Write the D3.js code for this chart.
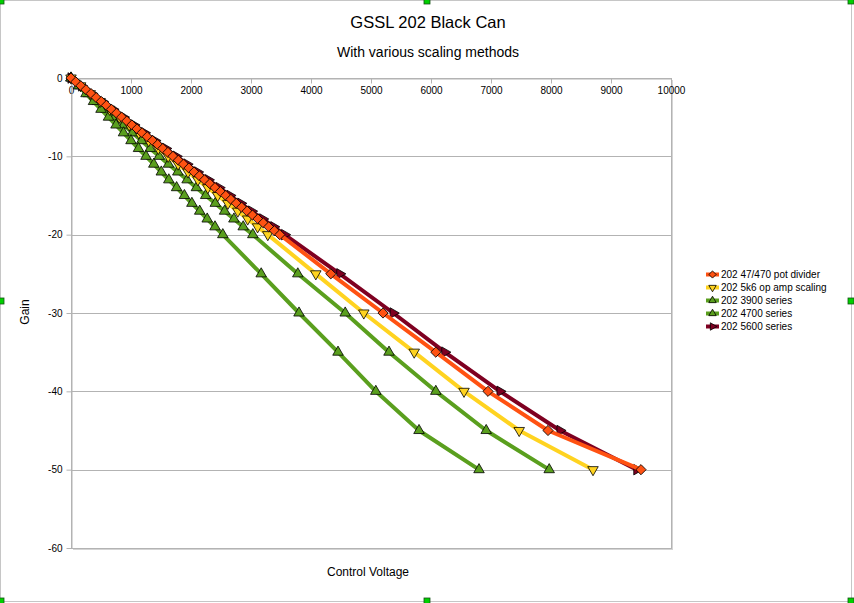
<!DOCTYPE html>
<html>
<head>
<meta charset="utf-8">
<script src="https://cdn.jsdelivr.net/npm/d3@7"></script>
<style>
	body { margin: 0; background: #fff; }
	svg { display: block; font-family: "Liberation Sans", Arial, sans-serif; }
</style>
</head>
<body>
<div id="chart"></div>
<script>
// gain steps (dB): the pot divider run was measured in half dB steps down to -20
var gainFine = [0,-0.5,-1,-1.5,-2,-2.5,-3,-3.5,-4,-4.5,-5,-5.5,-6,-6.5,-7,-7.5,-8,-8.5,-9,-9.5,
	-10,-10.5,-11,-11.5,-12,-12.5,-13,-13.5,-14,-14.5,-15,-15.5,-16,-16.5,-17,-17.5,-18,-18.5,-19,-19.5,
	-20,-25,-30,-35,-40,-45,-50];
var gainCoarse = [0,-1,-2,-3,-4,-5,-6,-7,-8,-9,-10,-11,-12,-13,-14,-15,-16,-17,-18,-19,-20,
	-25,-30,-35,-40,-45,-50];

// control voltage (mV) read for each gain step
var potDivider = [0,80,165,250,335,420,505,590,675,760,845,930,1015,1100,1185,1270,1360,1445,1530,1615,
	1700,1790,1875,1965,2050,2140,2225,2315,2400,2490,2580,2665,2755,2845,2935,3025,3115,3205,3295,3390,
	3480,4330,5200,6080,6950,7950,9500];
var opAmp5k6 = [0,160,320,485,645,805,970,1130,1295,1455,1620,1785,1950,2115,2280,2445,2615,2780,2945,3110,
	3280,4080,4880,5720,6550,7470,8700];
var series3900 = [0,125,250,375,500,625,750,875,1000,1125,1250,1380,1505,1630,1760,1890,2015,2145,2270,2400,
	2530,3170,3800,4450,5080,5800,6800];
var series4700 = [0,145,290,440,585,730,880,1025,1175,1320,1470,1625,1780,1935,2090,2245,2405,2560,2715,2870,
	3030,3780,4570,5300,6080,6920,7970];
var series5600 = [0,175,350,525,700,875,1050,1225,1400,1580,1755,1935,2110,2290,2470,2650,2830,3010,3195,3380,
	3560,4480,5370,6230,7150,8150,9430];

var seriesNames = ["202 47/470 pot divider", "202 5k6 op amp scaling", "202 3900 series", "202 4700 series", "202 5600 series"];
var xTicks = [0,1000,2000,3000,4000,5000,6000,7000,8000,9000,10000];
var yTicks = [0,-10,-20,-30,-40,-50,-60];

var colors = ["#ff5212", "#ffd320", "#5a9f1e", "#5a9f1e", "#7e0021"];
var markers = [
	{type: d3.symbolSquare, size: 52, rotate: 45},
	{type: d3.symbolTriangle, size: 48, rotate: 180},
	{type: d3.symbolTriangle, size: 48, rotate: 0},
	{type: d3.symbolTriangle, size: 48, rotate: 0},
	{type: d3.symbolTriangle, size: 48, rotate: 90}
];

var series = [
	{name: seriesNames[0], gains: gainFine, volts: potDivider},
	{name: seriesNames[1], gains: gainCoarse, volts: opAmp5k6},
	{name: seriesNames[2], gains: gainCoarse, volts: series3900},
	{name: seriesNames[3], gains: gainCoarse, volts: series4700},
	{name: seriesNames[4], gains: gainCoarse, volts: series5600}
].map(function(s, i){
	s.color = colors[i];
	s.marker = markers[i];
	s.points = s.gains.map(function(g, j){ return {g: g, v: s.volts[j]}; });
	return s;
});

var W = 854, H = 603;
var plot = {left: 71, right: 671, top: 78, bottom: 548};

var svg = d3.select("#chart")
	.append("svg")
	.attr("width", W)
	.attr("height", H);

// outer frame
svg.append("rect")
	.attr("x", 0.5).attr("y", 0.5)
	.attr("width", 851).attr("height", 601)
	.attr("fill", "#fff")
	.attr("stroke", "#c6c6c6");

var x = d3.scaleLinear()
	.domain([0, 10000])
	.range([plot.left, plot.right]);

var y = d3.scaleLinear()
	.domain([0, -60])
	.range([plot.top, plot.bottom]);

// plot wall with shadow
svg.append("rect")
	.attr("x", plot.left + 2).attr("y", plot.top + 2)
	.attr("width", plot.right - plot.left).attr("height", plot.bottom - plot.top)
	.attr("fill", "#d4d4d4");
svg.append("rect")
	.attr("x", plot.left + 0.5).attr("y", plot.top + 0.5)
	.attr("width", plot.right - plot.left).attr("height", plot.bottom - plot.top)
	.attr("fill", "#fff")
	.attr("stroke", "#b3b3b3");

// horizontal grid
svg.append("g")
	.selectAll("line")
	.data(yTicks.filter(function(d){ return d !== 0 && d !== -60; }))
	.enter()
	.append("line")
	.attr("x1", plot.left).attr("x2", plot.right)
	.attr("y1", function(d){ return Math.round(y(d)) + 0.5; })
	.attr("y2", function(d){ return Math.round(y(d)) + 0.5; })
	.attr("stroke", "#b3b3b3");

// axes, plain hyphen for the minus like the original
var plainNum = function(d){ return String(d); };

var xAxis = svg.append("g")
	.attr("transform", "translate(0," + (plot.top + 0.5) + ")")
	.call(d3.axisBottom(x).tickValues(xTicks).tickSize(5).tickSizeOuter(0).tickPadding(3).tickFormat(plainNum));

var yAxis = svg.append("g")
	.attr("transform", "translate(" + (plot.left + 0.5) + ",0)")
	.call(d3.axisLeft(y).tickValues(yTicks).tickSize(5).tickSizeOuter(0).tickPadding(4).tickFormat(plainNum));

[xAxis, yAxis].forEach(function(a){
	a.selectAll("path").attr("stroke", "#b3b3b3");
	a.selectAll("line").attr("stroke", "#b3b3b3");
	a.selectAll("text")
		.attr("fill", "#000")
		.style("font-family", "'Liberation Sans', Arial, sans-serif")
		.style("font-size", "10px");
});

// series, last one drawn first so the pot divider sits on top
var line = d3.line()
	.x(function(d){ return x(d.v); })
	.y(function(d){ return y(d.g); });

series.slice().reverse().forEach(function(s){
	var g = svg.append("g");
	g.append("path")
		.datum(s.points)
		.attr("d", line)
		.attr("fill", "none")
		.attr("stroke", s.color)
		.attr("stroke-width", 4)
		.attr("stroke-linejoin", "round");

	g.selectAll("path.pt")
		.data(s.points)
		.enter()
		.append("path")
		.attr("class", "pt")
		.attr("d", d3.symbol().type(s.marker.type).size(s.marker.size))
		.attr("transform", function(d){
			return "translate(" + x(d.v) + "," + y(d.g) + ") rotate(" + s.marker.rotate + ")";
		})
		.attr("fill", s.color)
		.attr("stroke", "#000")
		.attr("stroke-width", 0.8);
});

// legend
var legend = svg.append("g")
	.selectAll("g")
	.data(series)
	.enter()
	.append("g")
	.attr("transform", function(d, i){ return "translate(706," + (274.5 + i * 13) + ")"; });

legend.append("line")
	.attr("x1", 0).attr("x2", 13)
	.attr("stroke", function(d){ return d.color; })
	.attr("stroke-width", 4);

legend.append("path")
	.attr("d", function(d){ return d3.symbol().type(d.marker.type).size(d.marker.size * 0.5)(); })
	.attr("transform", function(d){ return "translate(6.5,0) rotate(" + d.marker.rotate + ")"; })
	.attr("fill", function(d){ return d.color; })
	.attr("stroke", "#000")
	.attr("stroke-width", 0.8);

legend.append("text")
	.attr("x", 15)
	.attr("dy", "0.35em")
	.style("font-size", "10px")
	.text(function(d){ return d.name; });

// titles
svg.append("text")
	.attr("x", 428).attr("y", 28)
	.attr("text-anchor", "middle")
	.style("font-size", "16.5px")
	.text("GSSL 202 Black Can");

svg.append("text")
	.attr("x", 428).attr("y", 57)
	.attr("text-anchor", "middle")
	.style("font-size", "14px")
	.text("With various scaling methods");

svg.append("text")
	.attr("x", 368).attr("y", 576)
	.attr("text-anchor", "middle")
	.style("font-size", "12px")
	.text("Control Voltage");

svg.append("text")
	.attr("transform", "translate(29,312) rotate(-90)")
	.attr("text-anchor", "middle")
	.style("font-size", "12px")
	.text("Gain");

// selection handles round the frame
var handles = [[1,1],[427,1],[851,1],[1,301],[851,301],[1,601],[427,601],[851,601]];
svg.append("g")
	.selectAll("rect")
	.data(handles)
	.enter()
	.append("rect")
	.attr("x", function(d){ return d[0] - 3; })
	.attr("y", function(d){ return d[1] - 3; })
	.attr("width", 6).attr("height", 6)
	.attr("fill", "#00d000")
	.attr("stroke", "#145214")
	.attr("stroke-width", 0.8);
</script>
</body>
</html>
